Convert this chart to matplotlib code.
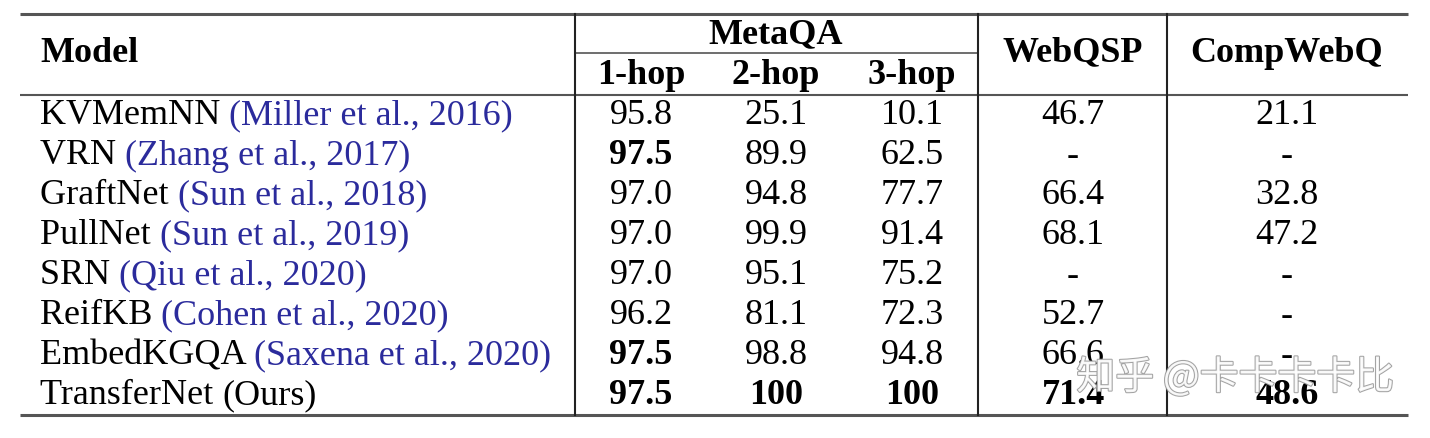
import matplotlib
matplotlib.use("Agg")
import matplotlib.pyplot as plt
import matplotlib.patheffects as pe

models = ["KVMemNN", "VRN", "GraftNet", "PullNet", "SRN", "ReifKB", "EmbedKGQA", "TransferNet"]
cites = ["(Miller et al., 2016)", "(Zhang et al., 2017)", "(Sun et al., 2018)", "(Sun et al., 2019)",
         "(Qiu et al., 2020)", "(Cohen et al., 2020)", "(Saxena et al., 2020)", "(Ours)"]
hop1 = ["95.8", "97.5", "97.0", "97.0", "97.0", "96.2", "97.5", "97.5"]
hop2 = ["25.1", "89.9", "94.8", "99.9", "95.1", "81.1", "98.8", "100"]
hop3 = ["10.1", "62.5", "77.7", "91.4", "75.2", "72.3", "94.8", "100"]
webqsp = ["46.7", "-", "66.4", "68.1", "-", "52.7", "66.6", "71.4"]
cwq = ["21.1", "-", "32.8", "47.2", "-", "-", "-", "48.6"]
bold = {(1, 0), (6, 0), (7, 0), (7, 1), (7, 2), (7, 3), (7, 4)}

W, H = 1430, 438
fig = plt.figure(figsize=(14.3, 4.38), dpi=100)
ax = fig.add_axes([0, 0, 1, 1])
ax.set_xlim(0, W); ax.set_ylim(H, 0); ax.axis("off")
F = "Liberation Serif"
fs = 26
blue = "#2b2b9c"

def hl(y, x0, x1, lw=2):
    ax.plot([x0, x1], [y, y], color="#555555", lw=lw, solid_capstyle="butt")
def vl(x, y0, y1):
    ax.plot([x, x], [y0, y1], color="#222222", lw=1.5)

hl(14, 20, 1408, 2.2); hl(53, 575, 978, 1.2); hl(95, 20, 1408, 1.5); hl(415, 20, 1408, 2.2)
for x in (575, 978, 1167):
    vl(x, 14, 415)

ax.text(40, 53, "Model", family=F, fontsize=fs, weight="bold", va="center")
ax.text(776, 35, "MetaQA", family=F, fontsize=fs, weight="bold", va="center", ha="center")
for x, t in zip((641, 776, 912), ("1-hop", "2-hop", "3-hop")):
    ax.text(x, 75, t, family=F, fontsize=fs, weight="bold", va="center", ha="center")
ax.text(1073, 53, "WebQSP", family=F, fontsize=fs, weight="bold", va="center", ha="center")
ax.text(1287, 53, "CompWebQ", family=F, fontsize=fs, weight="bold", va="center", ha="center")

fig.canvas.draw()
r = fig.canvas.get_renderer()
inv = ax.transData.inverted()
cols = [hop1, hop2, hop3, webqsp, cwq]
xs = [641, 776, 912, 1073, 1287]
for i in range(len(models)):
    y = 116 + 40 * i
    t = ax.text(40, y, models[i] + " ", family=F, fontsize=fs, va="center")
    bb = t.get_window_extent(r)
    x1 = inv.transform((bb.x1, bb.y0))[0]
    ax.text(x1, y, cites[i], family=F, fontsize=fs, va="center", color=blue if i < 7 else "black")
    for j, c in enumerate(cols):
        ax.text(xs[j], y, c[i], family=F, fontsize=fs, va="center", ha="center",
                weight="bold" if (i, j) in bold else "normal")

ax.text(1394, 378, "知乎 @卡卡卡卡比", family=["Noto Sans CJK SC", "DejaVu Sans"], fontsize=28,
        color="white", alpha=0.9, ha="right", va="center",
        path_effects=[pe.withStroke(linewidth=1.5, foreground="#999999")])
fig.savefig("out.png", dpi=100)
